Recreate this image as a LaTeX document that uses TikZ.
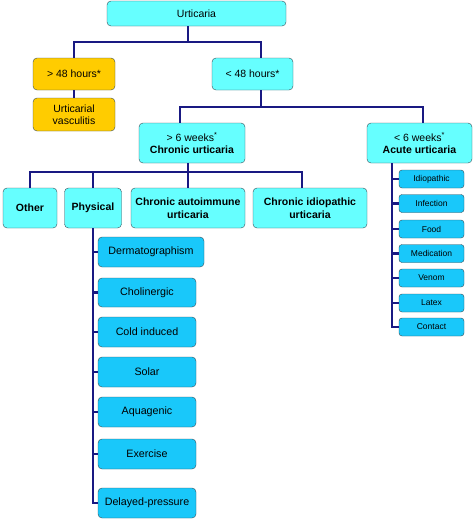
\documentclass[tikz,border=0pt]{standalone}
\usepackage{fontspec}
\setmainfont{Liberation Sans}
\definecolor{lcyan}{RGB}{102,255,255}
\definecolor{dcyan}{RGB}{25,200,250}
\definecolor{amber}{RGB}{255,204,0}
\definecolor{edge}{RGB}{55,75,85}
\definecolor{navy}{RGB}{25,25,130}

\begin{document}
\begin{tikzpicture}[x=1pt,y=-1pt,
	box/.style={draw=edge,fill=lcyan,rounded corners=4pt,align=center,inner sep=1pt,
		font=\fontsize{10.5}{12.5}\selectfont},
	sz/.style 2 args={minimum width=#1,minimum height=#2},
	hbox/.style={box,fill=amber},
	sub/.style={box,fill=dcyan,font=\fontsize{10.7}{12}\selectfont},
	tiny/.style={box,fill=dcyan,rounded corners=3pt,sz={65}{18},font=\fontsize{8.5}{10}\selectfont},
	bus/.style={navy,line width=2.3pt}]

	\useasboundingbox (0,0) rectangle (474,520);

	\node[box,sz={179}{25}] (urt) at (196.5,13.5) {Urticaria};
	\node[hbox,sz={82}{32}] (gt48) at (74,74) {> 48 hours*};
	\node[hbox,sz={82}{33}] (vasc) at (74,114.5) {Urticarial\\vasculitis};
	\node[box,sz={81}{32}] (lt48) at (252.5,74) {< 48 hours*};

	\node[box,sz={106}{40}] (chron) at (192,143) {> 6 weeks\textsuperscript{*}\\\textbf{Chronic urticaria}};
	\node[box,sz={105}{40}] (acute) at (419.5,143) {< 6 weeks\textsuperscript{*}\\\textbf{Acute urticaria}};

	\node[box,sz={54}{40}] (other) at (30,208) {\textbf{Other}};
	\node[box,sz={57}{40}] (phys) at (93,208) {\textbf{Physical}};
	\node[box,sz={114}{40}] (auto) at (188,208) {\textbf{Chronic autoimmune}\\\textbf{urticaria}};
	\node[box,sz={114}{40}] (idio) at (310,208) {\textbf{Chronic idiopathic}\\\textbf{urticaria}};

	\node[sub,sz={106}{30}] (p1) at (151,252) {Dermatographism};
	\node[sub,sz={98}{29}] (p2) at (147,292.5) {Cholinergic};
	\node[sub,sz={98}{30}] (p3) at (147,332) {Cold induced};
	\node[sub,sz={98}{30}] (p4) at (147,372) {Solar};
	\node[sub,sz={98}{30}] (p5) at (147,412) {Aquagenic};
	\node[sub,sz={98}{30}] (p6) at (147,454) {Exercise};
	\node[sub,sz={98}{30}] (p7) at (147,503) {Delayed-pressure};

	\node[tiny] (a1) at (431.5,179) {Idiopathic};
	\node[tiny] (a2) at (431.5,203.5) {Infection};
	\node[tiny] (a3) at (431.5,229) {Food};
	\node[tiny] (a4) at (431.5,253.5) {Medication};
	\node[tiny] (a5) at (431.5,278) {Venom};
	\node[tiny] (a6) at (431.5,303) {Latex};
	\node[tiny] (a7) at (431.5,327) {Contact};

	\coordinate (tj) at ([xshift=-8.5,yshift=-16]urt.south);
	\draw[bus] ([xshift=-8.5]urt.south) -- (tj);
	\draw[bus] (gt48.north) |- (tj) -| ([xshift=8.5]lt48.north);
	\draw[bus] (gt48.south) -- (vasc.north);

	\coordinate (mj) at ([xshift=8.5,yshift=-17]lt48.south);
	\draw[bus] ([xshift=8.5]lt48.south) -- (mj);
	\draw[bus] ([xshift=-12]chron.north) |- (mj) -| ([xshift=3.5]acute.north);

	\coordinate (cj) at ([xshift=-4,yshift=-9]chron.south);
	\draw[bus] ([xshift=-4]chron.south) -- (cj);
	\draw[bus] (other.north) |- (cj) -| ([xshift=-8]idio.north);
	\draw[bus] (phys.north) -- (phys.north |- cj);
	\draw[bus] (auto.north) -- (auto.north |- cj);

	\draw[bus] (phys.south) |- (p7.west);
	\foreach \i in {1,...,6}
		\draw[bus] (phys.south |- p\i.west) -- (p\i.west);

	\coordinate (abus) at ([xshift=-27.5]acute.south);
	\draw[bus] (abus) |- (a7.west);
	\foreach \i in {1,...,6}
		\draw[bus] (abus |- a\i.west) -- (a\i.west);
\end{tikzpicture}
\end{document}
